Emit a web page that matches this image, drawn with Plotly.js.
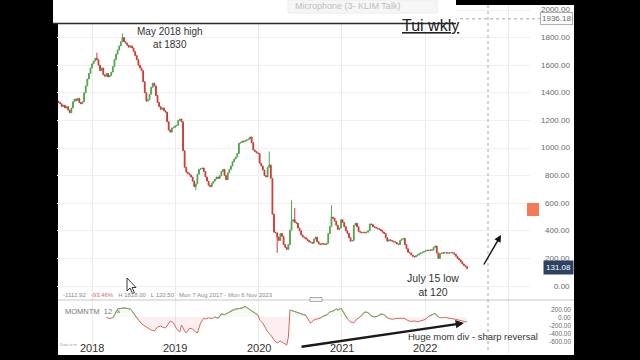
<!DOCTYPE html>
<html><head><meta charset="utf-8">
<script src="https://cdn.plot.ly/plotly-3.0.1.min.js"></script>
<style>html,body{margin:0;padding:0;background:#000;overflow:hidden}#chart{width:640px;height:360px}</style>
</head><body><div id="chart"></div>
<script>
// ---- data (weekly candles from Mon 7 Aug 2017) ----
const startYear = 2017, startMonth = 7, startDay = 7;
const firstOpen = 1340;
const closes = [
 1330,1320,1300,1310,1290,1300,1275,1255,1290,1335,
 1355,1345,1360,1330,1320,1335,1400,1450,1500,1540,
 1580,1610,1630,1650,1640,1600,1560,1580,1530,1520,
 1540,1515,1525,1550,1590,1640,1680,1710,1740,1770,
 1800,1770,1760,1745,1730,1740,1725,1700,1670,1640,
 1600,1580,1560,1480,1400,1340,1350,1390,1440,1470,
 1450,1380,1330,1300,1280,1290,1270,1260,1190,1130,
 1115,1145,1150,1160,1165,1200,1210,1190,980,860,
 825,815,805,790,760,720,740,810,845,850,
 855,830,790,760,730,720,745,760,775,790,
 780,800,830,845,800,770,820,845,870,900,
 920,935,960,1035,1040,1050,1045,1055,1060,1065,
 1080,1040,985,975,965,960,890,870,840,800,
 790,860,877,780,520,390,385,355,330,380,
 360,300,280,265,300,405,470,480,460,455,
 420,400,370,355,350,340,330,320,315,310,
 340,355,320,305,300,310,305,300,310,380,
 430,500,490,470,440,410,420,480,460,430,
 400,380,350,325,330,440,455,430,395,390,
 385,390,385,390,400,450,445,430,425,420,
 415,410,400,390,380,350,325,335,330,325,
 320,315,305,300,330,340,345,300,270,245,
 240,225,215,210,220,225,235,240,245,250,
 255,260,258,262,260,280,290,240,200,235,
 240,238,242,240,238,240,243,240,230,215,
 200,190,175,160,150,140,131
];
const spikeWeeks = [24, 40, 86, 132, 137, 146, 148, 171, 256];
const spikeHigh  = [1690, 1830, null, 975, null, 620, 565, 585, null];
const spikeLow   = [null, null, 695, null, 240, null, null, null, 120];

const momWeeks = [
 30,32,34,37,38,41,43,45,47,49,
 51,53,56,58,60,62,64,65,67,69,
 70,72,74,76,77,79,80,82,84,86,
 87,89,91,92,94,96,98,100,102,104,
 106,108,109,111,113,115,117,119,121,123,
 125,126,128,130,131,133,135,137,139,141,
 143,144,145,147,149,151,153,155,157,158,
 160,162,164,166,168,170,172,174,175,177,
 179,181,183,185,187,189,191,192,194,196,
 198,200,202,204,206,208,209,211,213,215,
 217,219,221,223,225,227,228,230,232,234,
 236,238,240,242,244,245,247,249,251,253,
 255,256
];
const momValues = [
 -10,-40,-20,200,210,225,215,200,100,-25,
 -125,-200,-275,-325,-350,-250,-225,-250,-275,-150,
 -100,-150,-300,-375,-200,-350,-400,-280,-300,-380,
 -400,-150,-30,-50,-20,-40,0,-30,80,60,
 100,150,175,200,210,225,260,200,150,100,
 50,-75,-150,-300,-375,-450,-575,-650,-600,-650,
 -700,-500,175,150,120,100,75,40,-100,-150,
 -75,-50,-25,25,50,125,150,200,175,220,
 100,-50,-125,-150,-50,0,100,125,110,25,
 0,20,75,60,-25,-50,-60,-40,-30,-30,
 -40,-90,-110,-100,-120,-90,-80,-60,20,60,
 90,0,-20,-10,-20,-30,-40,-60,-80,-110,
 -120,-120
];
const priceTicks = [0,200,400,600,800,1000,1200,1400,1600,1800,2000];
const momTicks = [200,0,-200,-400,-600];
const yearLabels = ['2018','2019','2020','2021','2022'];
const crossPrice = 1936.18;
const lastPrice = 131.08;

// ---- build ----
const W = 640, H = 360;
const px = x => x / W, py = y => 1 - y / H;
const FONT = 'Liberation Sans, Arial, sans-serif';
function weekDate(i){
  const d = new Date(Date.UTC(startYear, startMonth, startDay) + i * 7 * 86400000);
  return d.toISOString().slice(0, 10);
}
const dates = closes.map((_, i) => weekDate(i));
const opens = closes.map((c, i) => i === 0 ? firstOpen : closes[i - 1]);
const highs = closes.map((c, i) => Math.max(c, opens[i]));
const lows = closes.map((c, i) => Math.min(c, opens[i]));
spikeWeeks.forEach((w, k) => {
  if (spikeHigh[k] != null) highs[w] = spikeHigh[k];
  if (spikeLow[k] != null) lows[w] = spikeLow[k];
});
const momDates = momWeeks.map(weekDate);
const momNeg = momValues.map(v => Math.min(v, 0));
const momPos = momValues.map(v => Math.max(v, 0));
const momGreen = momValues.map((v, i) => {
  const p = i > 0 ? momValues[i-1] : -1, n = i < momValues.length-1 ? momValues[i+1] : -1;
  return (v >= 0 || (p > 0 && v > -60) || (n > 0 && v > -60)) ? v : null;
});

const traces = [
  {type:'candlestick', x:dates, open:opens, high:highs, low:lows, close:closes,
   xaxis:'x', yaxis:'y', hoverinfo:'skip', showlegend:false, whiskerwidth:0,
   increasing:{line:{color:'#4fa54f', width:1}, fillcolor:'#4fa54f'},
   decreasing:{line:{color:'#cc3a32', width:1}, fillcolor:'#cc3a32'}},
  {type:'scatter', mode:'lines', x:momDates, y:momNeg, xaxis:'x2', yaxis:'y2', fill:'tozeroy',
   fillcolor:'rgba(235,100,100,0.10)', line:{width:0}, hoverinfo:'skip', showlegend:false},
  {type:'scatter', mode:'lines', x:momDates, y:momPos, xaxis:'x2', yaxis:'y2', fill:'tozeroy',
   fillcolor:'rgba(100,180,100,0.05)', line:{width:0}, hoverinfo:'skip', showlegend:false},
  {type:'scatter', mode:'lines', x:momDates, y:momValues, xaxis:'x2', yaxis:'y2',
   line:{color:'#d9655f', width:1}, hoverinfo:'skip', showlegend:false},
  {type:'scatter', mode:'lines', x:momDates, y:momGreen, xaxis:'x2', yaxis:'y2', connectgaps:false,
   line:{color:'#66b866', width:1}, hoverinfo:'skip', showlegend:false}
];

const annotations = [];
priceTicks.forEach(v => annotations.push({xref:'paper', yref:'y', x:px(572), y:v, xanchor:'right', yanchor:'middle',
  text:v.toFixed(2), showarrow:false, font:{family:FONT, size:8, color:'#6a6a6a'}}));
momTicks.forEach(v => annotations.push({xref:'paper', yref:'y2', x:px(572), y:v, xanchor:'right', yanchor:'middle',
  text:v.toFixed(2), showarrow:false, borderpad:0, font:{family:FONT, size:6.5, color:'#6a6a6a'}}));
annotations.push({xref:'paper', yref:'y', x:px(573), y:crossPrice, xanchor:'right', yanchor:'middle',
  text:crossPrice.toFixed(2), showarrow:false, bgcolor:'#ffffff', bordercolor:'#b0b0b0', borderwidth:1, borderpad:1,
  font:{family:FONT, size:8, color:'#6a6a6a'}});
annotations.push({xref:'paper', yref:'y', x:px(574), y:lastPrice, xanchor:'right', yanchor:'middle',
  text:lastPrice.toFixed(2), showarrow:false, bgcolor:'#2d4262', borderpad:2,
  font:{family:FONT, size:8, color:'#ffffff'}});
yearLabels.forEach(yr => annotations.push({xref:'x', yref:'paper', x:yr + '-01-01', y:py(348), xanchor:'center', yanchor:'middle',
  text:yr, showarrow:false, font:{family:FONT, size:11, color:'#333'}}));
annotations.push({xref:'paper', yref:'paper', x:px(170), y:py(38), xanchor:'center', yanchor:'middle',
  text:'May 2018 high<br>at 1830', showarrow:false, font:{family:FONT, size:10, color:'#333'}});
annotations.push({xref:'paper', yref:'paper', x:px(430), y:py(26), xanchor:'center', yanchor:'middle',
  text:'<u>Tui wkly</u>', showarrow:false, font:{family:FONT, size:16, color:'#222'}});
annotations.push({xref:'paper', yref:'paper', x:px(433), y:py(284.5), xanchor:'center', yanchor:'middle',
  text:'July 15 low<br>at 120', showarrow:false, font:{family:FONT, size:10.5, color:'#333'}});
annotations.push({xref:'paper', yref:'paper', x:px(406), y:py(336.5), xanchor:'left', yanchor:'middle',
  text:'Huge mom div - sharp reversal', showarrow:false, font:{family:FONT, size:9.5, color:'#333'}});
annotations.push({xref:'paper', yref:'paper', x:px(61), y:py(295), xanchor:'left', yanchor:'middle',
  text:'-1112.92 &nbsp; <span style="color:#e06666">-93.46%</span> &nbsp; H 1818.00 &nbsp; L 120.50 &nbsp; Mon 7 Aug 2017 - Mon 6 Nov 2023',
  showarrow:false, font:{family:FONT, size:6, color:'#8a8a8a'}});
annotations.push({xref:'paper', yref:'paper', x:px(63), y:py(311), xanchor:'left', yanchor:'middle',
  text:'MOMNTM &nbsp;12 &nbsp;×', showarrow:false, font:{family:FONT, size:7.5, color:'#777'}});
annotations.push({xref:'paper', yref:'paper', x:px(58), y:py(344), xanchor:'left', yanchor:'middle',
  text:'Data is m', showarrow:false, font:{family:FONT, size:4, color:'#999'}});
annotations.push({xref:'paper', yref:'paper', x:px(293), y:py(6), xanchor:'left', yanchor:'middle',
  text:'Microphone (3- KLIM Talk)', showarrow:false, font:{family:FONT, size:9, color:'#bdbdbd'}});
annotations.push({xref:'paper', yref:'paper', x:px(501), y:py(235), ax:-18, ay:31, text:'', showarrow:true,
  arrowhead:2, arrowsize:1, arrowwidth:1.4, arrowcolor:'#111', standoff:0});
annotations.push({xref:'paper', yref:'paper', x:px(464), y:py(323), ax:-164, ay:24, text:'', showarrow:true,
  arrowhead:2, arrowsize:0.7, arrowwidth:2.4, arrowcolor:'#1a1a1a', standoff:0});

const cursorPts = [[127,278],[127,291],[130,288],[132.5,293.5],[134.5,292.5],[132,287.5],[136,287.5]];
const cursorPath = 'M ' + cursorPts.map(p => px(p[0]) + ',' + py(p[1])).join(' L ') + ' Z';

const shapes = [
  {type:'rect', xref:'paper', yref:'paper', x0:px(58), x1:px(574), y0:py(355), y1:py(5), layer:'below',
   fillcolor:'#ffffff', line:{width:0}},
  {type:'line', xref:'paper', yref:'paper', x0:px(58), x1:px(574), y0:py(300), y1:py(300),
   line:{color:'#c8c8c8', width:1}},
  {type:'line', xref:'paper', yref:'paper', x0:px(488), x1:px(488), y0:py(5), y1:py(352),
   line:{color:'#a8a8a8', width:1, dash:'dot'}},
  {type:'line', xref:'paper', yref:'y', x0:px(58), x1:px(541), y0:crossPrice, y1:crossPrice,
   line:{color:'#a8a8a8', width:1, dash:'dot'}},
  {type:'rect', xref:'paper', yref:'paper', x0:px(527), x1:px(539), y0:py(216), y1:py(203),
   fillcolor:'#f47a55', line:{width:0}},
  {type:'rect', xref:'paper', yref:'paper', x0:px(310), x1:px(322), y0:py(301.5), y1:py(297.5),
   fillcolor:'#f4f4f4', line:{color:'#9a9a9a', width:0.8}},
  {type:'path', xref:'paper', yref:'paper', path:cursorPath, fillcolor:'#ffffff', line:{color:'#222', width:0.9}},
  {type:'rect', xref:'paper', yref:'paper', x0:px(53), x1:px(456), y0:py(23), y1:py(0), layer:'above',
   fillcolor:'#ffffff', line:{width:0}},
  {type:'line', xref:'paper', yref:'paper', x0:px(53), x1:px(456), y0:py(23.5), y1:py(23.5),
   line:{color:'#2a2a2a', width:1.5}},
  {type:'rect', xref:'paper', yref:'paper', x0:px(288), x1:px(437), y0:py(13), y1:py(0),
   fillcolor:'#f6f6f6', line:{color:'#ececec', width:1}}
];

const layout = {
  width:W, height:H, autosize:false,
  margin:{l:0, r:0, t:0, b:0, pad:0},
  paper_bgcolor:'#000000', plot_bgcolor:'rgba(0,0,0,0)',
  showlegend:false,
  xaxis:{domain:[px(57), px(530)], range:['2017-07-31','2023-04-06'], type:'date',
    rangeslider:{visible:false}, showticklabels:false, showgrid:true, gridcolor:'#ebebeb',
    dtick:'M12', tick0:'2018-01-01', zeroline:false, showline:false, anchor:'y', fixedrange:true},
  yaxis:{domain:[py(300), py(5)], range:[-101.4, 2036.2], showticklabels:false, showgrid:true,
    gridcolor:'#f0f0f0', dtick:200, tick0:0, zeroline:false, showline:false, anchor:'x', fixedrange:true},
  xaxis2:{domain:[px(57), px(530)], matches:'x', type:'date', showticklabels:false, showgrid:true,
    gridcolor:'#ebebeb', dtick:'M12', tick0:'2018-01-01', zeroline:false, showline:false, anchor:'y2'},
  yaxis2:{domain:[py(354), py(300)], range:[-925, 425], showticklabels:false, showgrid:false,
    zeroline:false, showline:false, anchor:'x2', fixedrange:true},
  annotations:annotations,
  shapes:shapes
};
Plotly.newPlot('chart', traces, layout, {staticPlot:true, displayModeBar:false});
</script></body></html>
